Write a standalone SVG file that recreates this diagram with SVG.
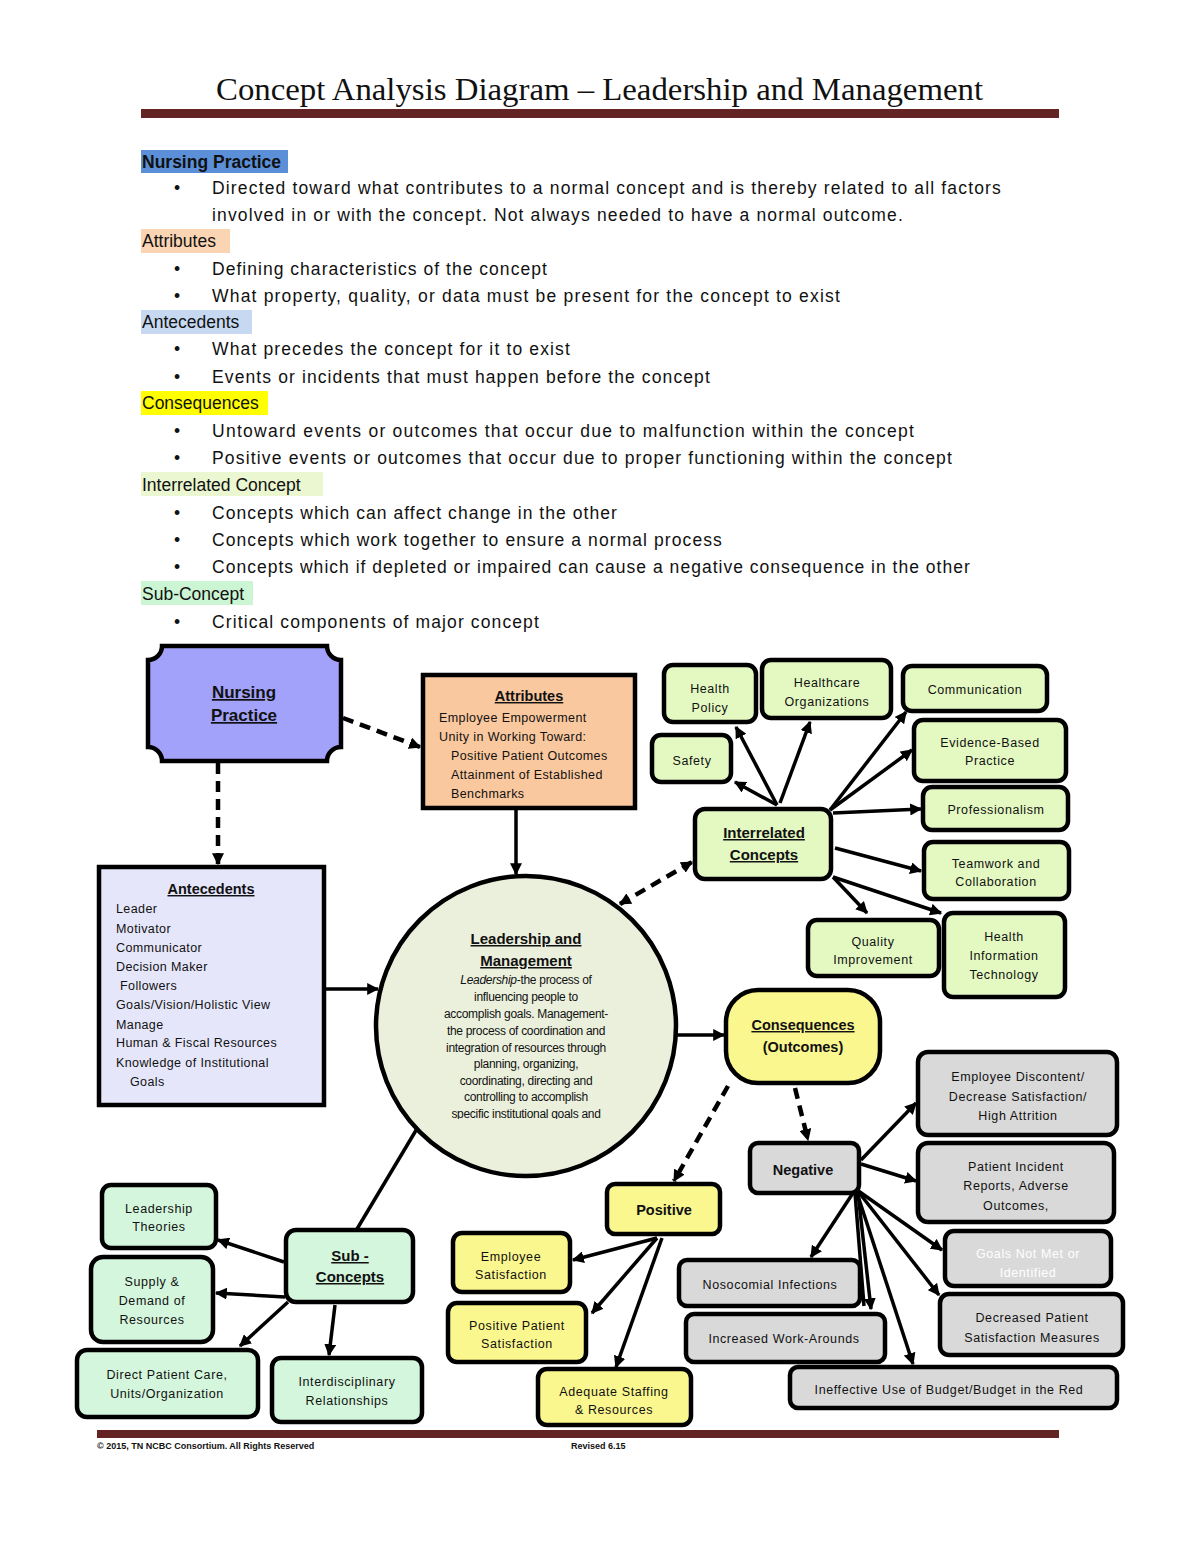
<svg xmlns="http://www.w3.org/2000/svg" width="1200" height="1553" viewBox="0 0 1200 1553">
<defs>
<marker id="ah" viewBox="0 0 10 10" refX="9" refY="5" markerWidth="12" markerHeight="12" markerUnits="userSpaceOnUse" orient="auto-start-reverse"><path d="M0,0 L10,5 L0,10 z" fill="#000"/></marker>
<clipPath id="circClip"><rect x="370" y="870" width="320" height="249"/></clipPath>
</defs>
<style>
text{font-family:"Liberation Sans",Arial,sans-serif;fill:#111}
.title{font-family:"Liberation Serif","Times New Roman",serif;font-size:31px}
.body{font-size:17.5px;letter-spacing:0.2px}
.lab{font-size:17.5px}
.n{font-size:12.5px;letter-spacing:0.6px;text-anchor:middle}
.nl{font-size:12.5px;letter-spacing:0.4px}
.h{font-weight:bold;text-decoration:underline;text-anchor:middle}
.box{stroke:#000;stroke-width:4.5}
.g{fill:#E4F9C2}
.m{fill:#D4F6DC}
.y{fill:#FBF78F}
.gr{fill:#D9D9D9}
.ln{stroke:#000;stroke-width:3.5;fill:none}
.dl{stroke:#000;stroke-width:4.5;fill:none;stroke-dasharray:11 7}
</style>
<rect width="1200" height="1553" fill="#fff"/>

<g id="header">
<text class="title" x="216" y="100" textLength="767" lengthAdjust="spacingAndGlyphs">Concept Analysis Diagram – Leadership and Management</text>
<rect x="141" y="109" width="918" height="9" fill="#632423"/>
</g>

<g id="definitions">
<rect x="141" y="150" width="147" height="23" fill="#5B8FD8"/>
<text class="lab" x="142" y="168" font-weight="bold">Nursing Practice</text>
<text class="body" x="174" y="194">•</text>
<text class="body" x="212" y="194" textLength="789">Directed toward what contributes to a normal concept and is thereby related to all factors</text>
<text class="body" x="212" y="221" textLength="691">involved in or with the concept. Not always needed to have a normal outcome.</text>
<rect x="141" y="229" width="89" height="24" fill="#FBD4B4"/>
<text class="lab" x="142" y="247">Attributes</text>
<text class="body" x="174" y="275">•</text>
<text class="body" x="212" y="275" textLength="335">Defining characteristics of the concept</text>
<text class="body" x="174" y="302">•</text>
<text class="body" x="212" y="302" textLength="628">What property, quality, or data must be present for the concept to exist</text>
<rect x="141" y="310" width="111" height="24" fill="#C6D9F1"/>
<text class="lab" x="142" y="328">Antecedents</text>
<text class="body" x="174" y="355">•</text>
<text class="body" x="212" y="355" textLength="358">What precedes the concept for it to exist</text>
<text class="body" x="174" y="383">•</text>
<text class="body" x="212" y="383" textLength="498">Events or incidents that must happen before the concept</text>
<rect x="141" y="391" width="127" height="24" fill="#FFFF00"/>
<text class="lab" x="142" y="409">Consequences</text>
<text class="body" x="174" y="437">•</text>
<text class="body" x="212" y="437" textLength="702">Untoward events or outcomes that occur due to malfunction within the concept</text>
<text class="body" x="174" y="464">•</text>
<text class="body" x="212" y="464" textLength="740">Positive events or outcomes that occur due to proper functioning within the concept</text>
<rect x="141" y="472" width="182" height="24" fill="#EAF7D0"/>
<text class="lab" x="142" y="491">Interrelated Concept</text>
<text class="body" x="174" y="519">•</text>
<text class="body" x="212" y="519" textLength="405">Concepts which can affect change in the other</text>
<text class="body" x="174" y="546">•</text>
<text class="body" x="212" y="546" textLength="510">Concepts which work together to ensure a normal process</text>
<text class="body" x="174" y="573">•</text>
<text class="body" x="212" y="573" textLength="758">Concepts which if depleted or impaired can cause a negative consequence in the other</text>
<rect x="141" y="581" width="112" height="24" fill="#CCF5D4"/>
<text class="lab" x="142" y="600">Sub-Concept</text>
<text class="body" x="174" y="628">•</text>
<text class="body" x="212" y="628" textLength="327">Critical components of major concept</text>
</g>

<g id="connectors">
<line class="dl" x1="343" y1="718" x2="420" y2="747" marker-end="url(#ah)"/>
<line class="dl" x1="218" y1="763" x2="218" y2="864" marker-end="url(#ah)"/>
<line class="ln" x1="516" y1="809" x2="516" y2="874" marker-end="url(#ah)"/>
<line class="ln" x1="325" y1="989" x2="378" y2="989" marker-end="url(#ah)"/>
<line class="ln" x1="677" y1="1035" x2="724" y2="1035" marker-end="url(#ah)"/>
<line class="dl" x1="620" y1="904" x2="692" y2="862" marker-start="url(#ah)" marker-end="url(#ah)"/>
<line class="ln" x1="418" y1="1127" x2="357" y2="1229"/>
<line class="ln" x1="777" y1="805" x2="735" y2="782" marker-end="url(#ah)"/>
<line class="ln" x1="777" y1="805" x2="736" y2="727" marker-end="url(#ah)"/>
<line class="ln" x1="780" y1="803" x2="810" y2="722" marker-end="url(#ah)"/>
<line class="ln" x1="830" y1="810" x2="906" y2="712" marker-end="url(#ah)"/>
<line class="ln" x1="830" y1="810" x2="912" y2="750" marker-end="url(#ah)"/>
<line class="ln" x1="833" y1="813" x2="921" y2="809" marker-end="url(#ah)"/>
<line class="ln" x1="835" y1="848" x2="921" y2="871" marker-end="url(#ah)"/>
<line class="ln" x1="833" y1="877" x2="867" y2="913" marker-end="url(#ah)"/>
<line class="ln" x1="833" y1="877" x2="941" y2="913" marker-end="url(#ah)"/>
<line class="dl" x1="728" y1="1086" x2="674" y2="1181" marker-end="url(#ah)"/>
<line class="dl" x1="795" y1="1088" x2="808" y2="1140" marker-end="url(#ah)"/>
<line class="ln" x1="657" y1="1238" x2="573" y2="1260" marker-end="url(#ah)"/>
<line class="ln" x1="657" y1="1238" x2="592" y2="1313" marker-end="url(#ah)"/>
<line class="ln" x1="662" y1="1238" x2="616" y2="1367" marker-end="url(#ah)"/>
<line class="ln" x1="861" y1="1160" x2="916" y2="1103" marker-end="url(#ah)"/>
<line class="ln" x1="861" y1="1164" x2="916" y2="1181" marker-end="url(#ah)"/>
<line class="ln" x1="857" y1="1190" x2="942" y2="1250" marker-end="url(#ah)"/>
<line class="ln" x1="857" y1="1190" x2="939" y2="1295" marker-end="url(#ah)"/>
<line class="ln" x1="853" y1="1193" x2="811" y2="1257" marker-end="url(#ah)"/>
<line class="ln" x1="855" y1="1193" x2="864" y2="1306"/>
<line class="ln" x1="858" y1="1193" x2="871" y2="1309" marker-end="url(#ah)"/>
<line class="ln" x1="857" y1="1193" x2="913" y2="1364" marker-end="url(#ah)"/>
<line class="ln" x1="284" y1="1262" x2="218" y2="1240" marker-end="url(#ah)"/>
<line class="ln" x1="285" y1="1297" x2="216" y2="1293" marker-end="url(#ah)"/>
<line class="ln" x1="288" y1="1302" x2="240" y2="1346" marker-end="url(#ah)"/>
<line class="ln" x1="335" y1="1305" x2="329" y2="1355" marker-end="url(#ah)"/>
</g>

<g id="nursing-practice">
<path class="box" fill="#A2A2FA" d="M162,646 L327,646 A14,14 0 0 0 341,660 L341,747 A14,14 0 0 0 327,761 L162,761 A14,14 0 0 0 148,747 L148,660 A14,14 0 0 0 162,646 Z"/>
<text class="h" x="244" y="698" font-size="17">Nursing</text>
<text class="h" x="244" y="721" font-size="17">Practice</text>
</g>

<g id="attributes">
<rect class="box" x="423" y="675" width="212" height="133" fill="#FAC89E"/>
<text class="h" x="529" y="701" font-size="14.5">Attributes</text>
<text class="nl" x="439" y="722">Employee Empowerment</text>
<text class="nl" x="439" y="741">Unity in Working Toward:</text>
<text class="nl" x="451" y="760">Positive Patient Outcomes</text>
<text class="nl" x="451" y="779">Attainment of Established</text>
<text class="nl" x="451" y="798">Benchmarks</text>
</g>

<g id="antecedents">
<rect class="box" x="99" y="867" width="225" height="238" fill="#E6E6FA"/>
<text class="h" x="211" y="894" font-size="14.5">Antecedents</text>
<text class="nl" x="116" y="913">Leader</text>
<text class="nl" x="116" y="933">Motivator</text>
<text class="nl" x="116" y="952">Communicator</text>
<text class="nl" x="116" y="971">Decision Maker</text>
<text class="nl" x="120" y="990">Followers</text>
<text class="nl" x="116" y="1009">Goals/Vision/Holistic View</text>
<text class="nl" x="116" y="1029">Manage</text>
<text class="nl" x="116" y="1047">Human &amp; Fiscal Resources</text>
<text class="nl" x="116" y="1067">Knowledge of Institutional</text>
<text class="nl" x="130" y="1086">Goals</text>
</g>

<g id="leadership-management">
<circle class="box" cx="526" cy="1026" r="150" fill="#EBF0DD"/>
<text class="h" x="526" y="944" font-size="15">Leadership and</text>
<text class="h" x="526" y="966" font-size="15">Management</text>
<g clip-path="url(#circClip)" font-size="12" text-anchor="middle" letter-spacing="-0.3">
<text x="526" y="984"><tspan font-style="italic">Leadership</tspan>-the process of</text>
<text x="526" y="1001">influencing people to</text>
<text x="526" y="1018">accomplish goals. Management-</text>
<text x="526" y="1035">the process of coordination and</text>
<text x="526" y="1052">integration of resources through</text>
<text x="526" y="1068">planning, organizing,</text>
<text x="526" y="1085">coordinating, directing and</text>
<text x="526" y="1101">controlling to accomplish</text>
<text x="526" y="1118">specific institutional goals and</text>
</g>
</g>

<g id="interrelated-concepts">
<rect class="box g" x="695" y="809" width="136" height="70" rx="10"/>
<text class="h" x="764" y="838" font-size="15">Interrelated</text>
<text class="h" x="764" y="860" font-size="15">Concepts</text>
</g>
<g id="health-policy">
<rect class="box g" x="664" y="665" width="92" height="57" rx="9"/>
<text class="n" x="710" y="693">Health</text>
<text class="n" x="710" y="712">Policy</text>
</g>
<g id="healthcare-organizations">
<rect class="box g" x="762" y="660" width="129" height="58" rx="9"/>
<text class="n" x="827" y="687">Healthcare</text>
<text class="n" x="827" y="706">Organizations</text>
</g>
<g id="communication">
<rect class="box g" x="903" y="666" width="144" height="45" rx="9"/>
<text class="n" x="975" y="694">Communication</text>
</g>
<g id="safety">
<rect class="box g" x="652" y="735" width="79" height="47" rx="9"/>
<text class="n" x="692" y="765">Safety</text>
</g>
<g id="evidence-based-practice">
<rect class="box g" x="914" y="720" width="152" height="61" rx="9"/>
<text class="n" x="990" y="747">Evidence-Based</text>
<text class="n" x="990" y="765">Practice</text>
</g>
<g id="professionalism">
<rect class="box g" x="923" y="787" width="145" height="43" rx="9"/>
<text class="n" x="996" y="814">Professionalism</text>
</g>
<g id="teamwork">
<rect class="box g" x="924" y="842" width="145" height="57" rx="9"/>
<text class="n" x="996" y="868">Teamwork and</text>
<text class="n" x="996" y="886">Collaboration</text>
</g>
<g id="quality-improvement">
<rect class="box g" x="808" y="920" width="131" height="56" rx="9"/>
<text class="n" x="873" y="946">Quality</text>
<text class="n" x="873" y="964">Improvement</text>
</g>
<g id="health-information-technology">
<rect class="box g" x="944" y="913" width="121" height="84" rx="9"/>
<text class="n" x="1004" y="941">Health</text>
<text class="n" x="1004" y="960">Information</text>
<text class="n" x="1004" y="979">Technology</text>
</g>

<g id="consequences">
<rect class="box y" x="726" y="990" width="154" height="93" rx="32"/>
<text class="h" x="803" y="1030" font-size="14.5">Consequences</text>
<text x="803" y="1052" font-size="14.5" font-weight="bold" text-anchor="middle">(Outcomes)</text>
</g>

<g id="positive">
<rect class="box y" x="607" y="1184" width="113" height="50" rx="8"/>
<text x="664" y="1215" font-size="14.5" font-weight="bold" text-anchor="middle">Positive</text>
</g>
<g id="employee-satisfaction">
<rect class="box y" x="453" y="1233" width="117" height="59" rx="9"/>
<text class="n" x="511" y="1261">Employee</text>
<text class="n" x="511" y="1279">Satisfaction</text>
</g>
<g id="positive-patient-satisfaction">
<rect class="box y" x="448" y="1303" width="138" height="59" rx="9"/>
<text class="n" x="517" y="1330">Positive Patient</text>
<text class="n" x="517" y="1348">Satisfaction</text>
</g>
<g id="adequate-staffing">
<rect class="box y" x="538" y="1369" width="153" height="56" rx="9"/>
<text class="n" x="614" y="1396">Adequate Staffing</text>
<text class="n" x="614" y="1414">&amp; Resources</text>
</g>

<g id="negative">
<rect class="box gr" x="750" y="1143" width="109" height="50" rx="8"/>
<text x="803" y="1175" font-size="14.5" font-weight="bold" text-anchor="middle">Negative</text>
</g>
<g id="employee-discontent">
<rect class="box gr" x="918" y="1052" width="199" height="83" rx="10"/>
<text class="n" x="1018" y="1081">Employee Discontent/</text>
<text class="n" x="1018" y="1101">Decrease Satisfaction/</text>
<text class="n" x="1018" y="1120">High Attrition</text>
</g>
<g id="patient-incident">
<rect class="box gr" x="918" y="1143" width="196" height="79" rx="10"/>
<text class="n" x="1016" y="1171">Patient Incident</text>
<text class="n" x="1016" y="1190">Reports, Adverse</text>
<text class="n" x="1016" y="1210">Outcomes,</text>
</g>
<g id="goals-not-met">
<rect class="box gr" x="945" y="1231" width="166" height="55" rx="9"/>
<text class="n" x="1028" y="1258" style="fill:#fff">Goals Not Met or</text>
<text class="n" x="1028" y="1277" style="fill:#fff">Identified</text>
</g>
<g id="decreased-patient-satisfaction">
<rect class="box gr" x="940" y="1294" width="183" height="61" rx="9"/>
<text class="n" x="1032" y="1322">Decreased Patient</text>
<text class="n" x="1032" y="1342">Satisfaction Measures</text>
</g>
<g id="nosocomial-infections">
<rect class="box gr" x="679" y="1260" width="181" height="46" rx="8"/>
<text class="n" x="770" y="1289">Nosocomial Infections</text>
</g>
<g id="increased-work-arounds">
<rect class="box gr" x="686" y="1314" width="199" height="48" rx="8"/>
<text class="n" x="784" y="1343">Increased Work-Arounds</text>
</g>
<g id="ineffective-budget">
<rect class="box gr" x="790" y="1367" width="327" height="41" rx="8"/>
<text class="n" x="949" y="1394">Ineffective Use of Budget/Budget in the Red</text>
</g>

<g id="sub-concepts">
<rect class="box m" x="286" y="1230" width="127" height="72" rx="10"/>
<text class="h" x="350" y="1261" font-size="15">Sub -</text>
<text class="h" x="350" y="1282" font-size="15">Concepts</text>
</g>
<g id="leadership-theories">
<rect class="box m" x="102" y="1185" width="114" height="63" rx="9"/>
<text class="n" x="159" y="1213">Leadership</text>
<text class="n" x="159" y="1231">Theories</text>
</g>
<g id="supply-demand">
<rect class="box m" x="91" y="1257" width="122" height="85" rx="12"/>
<text class="n" x="152" y="1286">Supply &amp;</text>
<text class="n" x="152" y="1305">Demand of</text>
<text class="n" x="152" y="1324">Resources</text>
</g>
<g id="direct-patient-care">
<rect class="box m" x="77" y="1350" width="181" height="67" rx="10"/>
<text class="n" x="167" y="1379">Direct Patient Care,</text>
<text class="n" x="167" y="1398">Units/Organization</text>
</g>
<g id="interdisciplinary">
<rect class="box m" x="272" y="1358" width="150" height="64" rx="9"/>
<text class="n" x="347" y="1386">Interdisciplinary</text>
<text class="n" x="347" y="1405">Relationships</text>
</g>

<g id="footer">
<rect x="97" y="1430" width="962" height="8" fill="#632423"/>
<text x="97" y="1449" font-size="9" font-weight="bold">© 2015, TN NCBC Consortium. All Rights Reserved</text>
<text x="571" y="1449" font-size="9" font-weight="bold">Revised 6.15</text>
</g>
</svg>
